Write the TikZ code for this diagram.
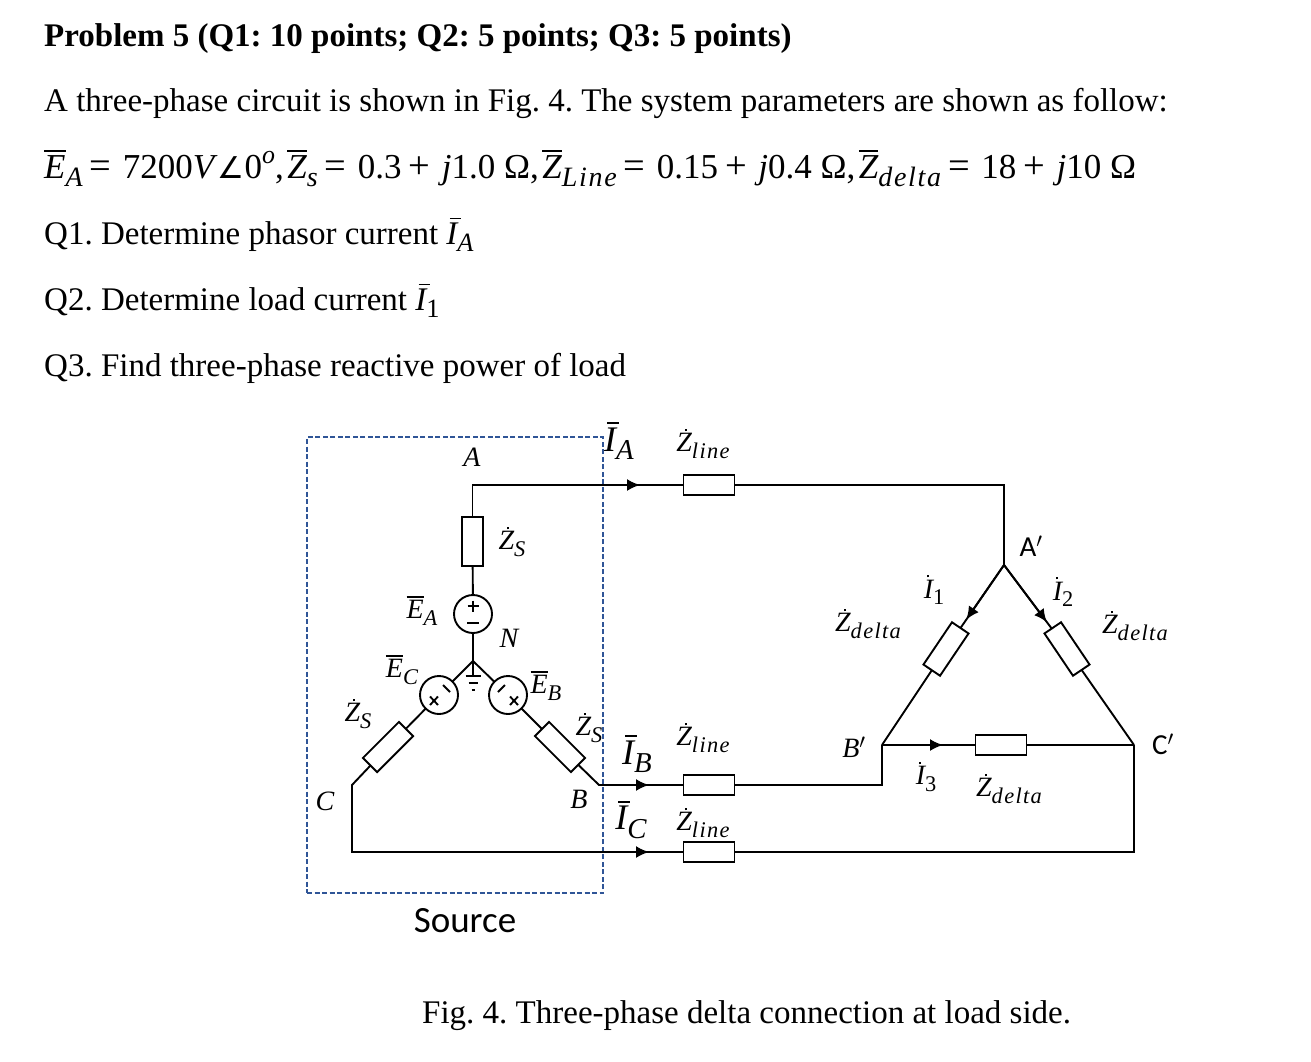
\documentclass[tikz,border=0pt]{standalone}
\usepackage{fontspec}
\usepackage{graphicx}
\usepackage{xcolor}
\setmainfont{Liberation Serif}
\newfontfamily\carl{Carlito}
\newfontfamily\dvs{DejaVu Sans}
\newfontfamily\spit[LetterSpace=6]{Liberation Serif Italic}
\usetikzlibrary{arrows.meta,calc}
\frenchspacing
\definecolor{srcblue}{HTML}{2F5597}
\newcommand\brd[2][0em]{\setbox0\hbox{\itshape #2}\leavevmode\rlap{\kern#1\raise\dimexpr\ht0+.09em\relax\hbox{\vrule width\wd0 height .055em depth 0pt}}\box0}
\newcommand\dtd[2][.3em]{\setbox0\hbox{\itshape #2}\leavevmode\rlap{\kern#1\raise\dimexpr\ht0+.08em\relax\hbox{\vrule width .08em height .08em depth 0pt}}\box0}
\newcommand\sbs[1]{\raisebox{-.24em}{\scalebox{.8}{\spit\upshape #1}}}
\newcommand\sbr[1]{\raisebox{-.24em}{\scalebox{.8}{\upshape #1}}}
\newcommand\fs[1]{\fontsize{#1}{#1}\selectfont}
\newcommand\mop[1]{\kern.2em\scalebox{1.1}{#1}\kern.33em}
\tikzset{
  x=1pt,y=-1pt,
  wire/.style={line width=1.9pt,black},
  arrowwire/.style={line width=1.9pt,black,-{Latex[length=13pt,width=12pt]}},
  impbox/.style={draw,line width=1.9pt,fill=white,minimum width=51pt,minimum height=20pt,inner sep=0pt,outer sep=0pt},
  srcc/.style={draw,circle,line width=1.9pt,fill=white,minimum size=38pt,inner sep=0pt,outer sep=0pt},
  para/.style={anchor=base west,inner sep=0pt,font=\fs{33}},
  lab/.style={inner sep=0pt,font=\fs{28}\itshape},
  sanslab/.style={inner sep=0pt,font=\fs{29}\carl},
  srcbox/.style={line width=1.9pt,draw=srcblue,dashed,dash pattern=on 5pt off 2.5pt}
}
\begin{document}
\begin{tikzpicture}
\useasboundingbox (0,0) rectangle (1311,1062);
\fill[white] (0,0) rectangle (1311,1062);
% text block
\node[para,font=\fs{33}\bfseries] (t1) at (44,47) {Problem 5 (Q1: 10 points; Q2: 5 points; Q3: 5 points)};
\node[para] (t2) at (44,112) {A three-phase circuit is shown in Fig. 4. The system parameters are shown as follow:};
\node[para,font=\fs{35}] (t3) at (44,178) {\brd{E}\sbs{A}\mop{=}7200\textit{V}{\dvs\fs{30}∠}0\raisebox{.42em}{\scalebox{.74}{\itshape o}},\kern.1em\brd{Z}\sbs{s}\mop{=}0.3\mop{+}\textit{j}1.0 Ω,\kern.1em\brd{Z}\sbs{Line}\mop{=}0.15\mop{+}\textit{j}0.4 Ω,\kern.1em\brd{Z}\sbs{delta}\mop{=}18\mop{+}\textit{j}10 Ω};
\node[para] (t4) at (44,244) {Q1. Determine phasor current \brd[.1em]{I}\sbs{A}};
\node[para] (t5) at (44,310) {Q2. Determine load current \brd[.1em]{I}\sbr{1}};
\node[para] (t6) at (44,376) {Q3. Find three-phase reactive power of load};
\node[para] (t7) at (422,1023) {Fig. 4. Three-phase delta connection at load side.};
% source boundary
\node[srcbox,minimum width=296pt,minimum height=456pt,inner sep=0pt,outer sep=0pt] (src) at (455,665) {};
% components
\node[impbox,minimum width=21pt,minimum height=49pt] (zsa) at (472.5,541.5) {};
\node[impbox,rotate=45] (zsc) at (388,747) {};
\node[impbox,rotate=-45] (zsb) at (560,747) {};
\node[srcc] (ea) at (473,614) {};
\node[srcc] (ec) at (439,695) {};
\node[srcc] (eb) at (508,695) {};
\node[impbox] (zl1) at (709,485) {};
\node[impbox] (zl2) at (709,785) {};
\node[impbox] (zl3) at (709,852) {};
\node[impbox,rotate=56] (zd1) at (946,649) {};
\node[impbox,rotate=-56] (zd2) at (1067,649) {};
\node[impbox] (zd3) at (1001,745) {};
% junctions
\coordinate (A) at (472.5,485);
\coordinate (N) at (473,661);
\coordinate (C) at (352,785);
\coordinate (Cb) at (352,852);
\coordinate (B) at (599,785);
\coordinate (Ap) at (1004,565);
\coordinate (Apt) at (1004,485);
\coordinate (Bp) at (882,745);
\coordinate (Bpb) at (882,785);
\coordinate (Cp) at (1134,745);
\coordinate (Cpb) at (1134,852);
\coordinate (ta) at (640,485);
\coordinate (tb) at (649,785);
\coordinate (tc) at (649,852);
\coordinate (t1a) at ($(Ap)!0.65!(zd1)$);
\coordinate (t2a) at ($(Ap)!0.68!(zd2)$);
\coordinate (t3a) at (943,745);
\coordinate (gnd) at (473,676);
% wires
\draw[wire] (zsa) -- (A) -- (zl1);
\draw[arrowwire] (A) -- (ta);
\draw[wire] (zl1) -- (Apt) -- (Ap);
\draw[wire] (zsa) -- (ea);
\draw[wire] (ea) -- (N);
\draw[wire] (N) -- (ec);
\draw[wire] (N) -- (eb);
\draw[wire] (ec) -- (zsc);
\draw[wire] (eb) -- (zsb);
\draw[wire] (zsc) -- (C) -- (Cb) -- (zl3);
\draw[arrowwire] (Cb) -- (tc);
\draw[wire] (zl3) -- (Cpb) -- (Cp);
\draw[wire] (zsb) -- (B) -- (zl2);
\draw[arrowwire] (B) -- (tb);
\draw[wire] (zl2) -- (Bpb) -- (Bp);
\draw[wire] (Ap) -- (zd1);
\draw[arrowwire] (Ap) -- (t1a);
\draw[wire] (zd1) -- (Bp);
\draw[wire] (Ap) -- (zd2);
\draw[arrowwire] (Ap) -- (t2a);
\draw[wire] (zd2) -- (Cp);
\draw[wire] (Bp) -- (zd3);
\draw[arrowwire] (Bp) -- (t3a);
\draw[wire] (zd3) -- (Cp);
% ground
\draw[wire] (N) -- (gnd);
\draw[wire] (465.5,676) -- (480.5,676);
\draw[wire] (468.5,683) -- (477.5,683);
\draw[wire] (471.5,690) -- (475,690);
% polarity marks
\draw[wire] (467.5,606) -- (478.5,606) (473,600.5) -- (473,611.5);
\draw[wire] (467,623) -- (479,623);
\draw[wire] (430,696.5) -- (438,705) (430,705) -- (438,696.5);
\draw[wire] (443,685) -- (450,692);
\draw[wire] (510,696.5) -- (518,705) (510,705) -- (518,696.5);
\draw[wire] (498,692) -- (505,685);
% labels
\node[lab] (lA) at (472,457) {A};
\node[lab] (lN) at (509,638) {N};
\node[lab] (lC) at (325,801) {C};
\node[lab] (lB) at (579,799) {B};
\node[lab] (lBp) at (854,747) {B$'$};
\node[sanslab] (lAp) at (1031,546) {A$'$};
\node[sanslab] (lCp) at (1163,744) {C$'$};
\node[lab] (lzs1) at (512,542) {\dtd{Z}\sbs{S}};
\node[lab] (lzs2) at (358,714) {\dtd{Z}\sbs{S}};
\node[lab] (lzs3) at (589,728) {\dtd{Z}\sbs{S}};
\node[lab] (lea) at (422,611) {\brd{E}\sbs{A}};
\node[lab] (lec) at (402,670) {\brd{E}\sbs{C}};
\node[lab] (leb) at (546,686) {\brd{E}\sbs{B}};
\node[lab,font=\fs{36}\itshape] (lia) at (619,441) {\brd[.08em]{I}\sbs{A}};
\node[lab,font=\fs{36}\itshape] (lib) at (637,754) {\brd[.08em]{I}\sbs{B}};
\node[lab,font=\fs{36}\itshape] (lic) at (631,820) {\brd[.08em]{I}\sbs{C}};
\node[lab] (lzl1) at (703,444) {\dtd{Z}\sbs{line}};
\node[lab] (lzl2) at (703,738) {\dtd{Z}\sbs{line}};
\node[lab] (lzl3) at (703,823) {\dtd{Z}\sbs{line}};
\node[lab] (lzd1) at (868,624) {\dtd{Z}\sbs{delta}};
\node[lab] (lzd2) at (1135,626) {\dtd{Z}\sbs{delta}};
\node[lab] (lzd3) at (1009,789) {\dtd{Z}\sbs{delta}};
\node[lab] (li1) at (934,590) {\dtd[.12em]{I}\sbr{1}};
\node[lab] (li2) at (1063,592) {\dtd[.12em]{I}\sbr{2}};
\node[lab] (li3) at (926,777) {\dtd[.12em]{I}\sbr{3}};
\node[inner sep=0pt,font=\fs{37}\carl] (lsrc) at (465,921) {Source};
\end{tikzpicture}
\end{document}
